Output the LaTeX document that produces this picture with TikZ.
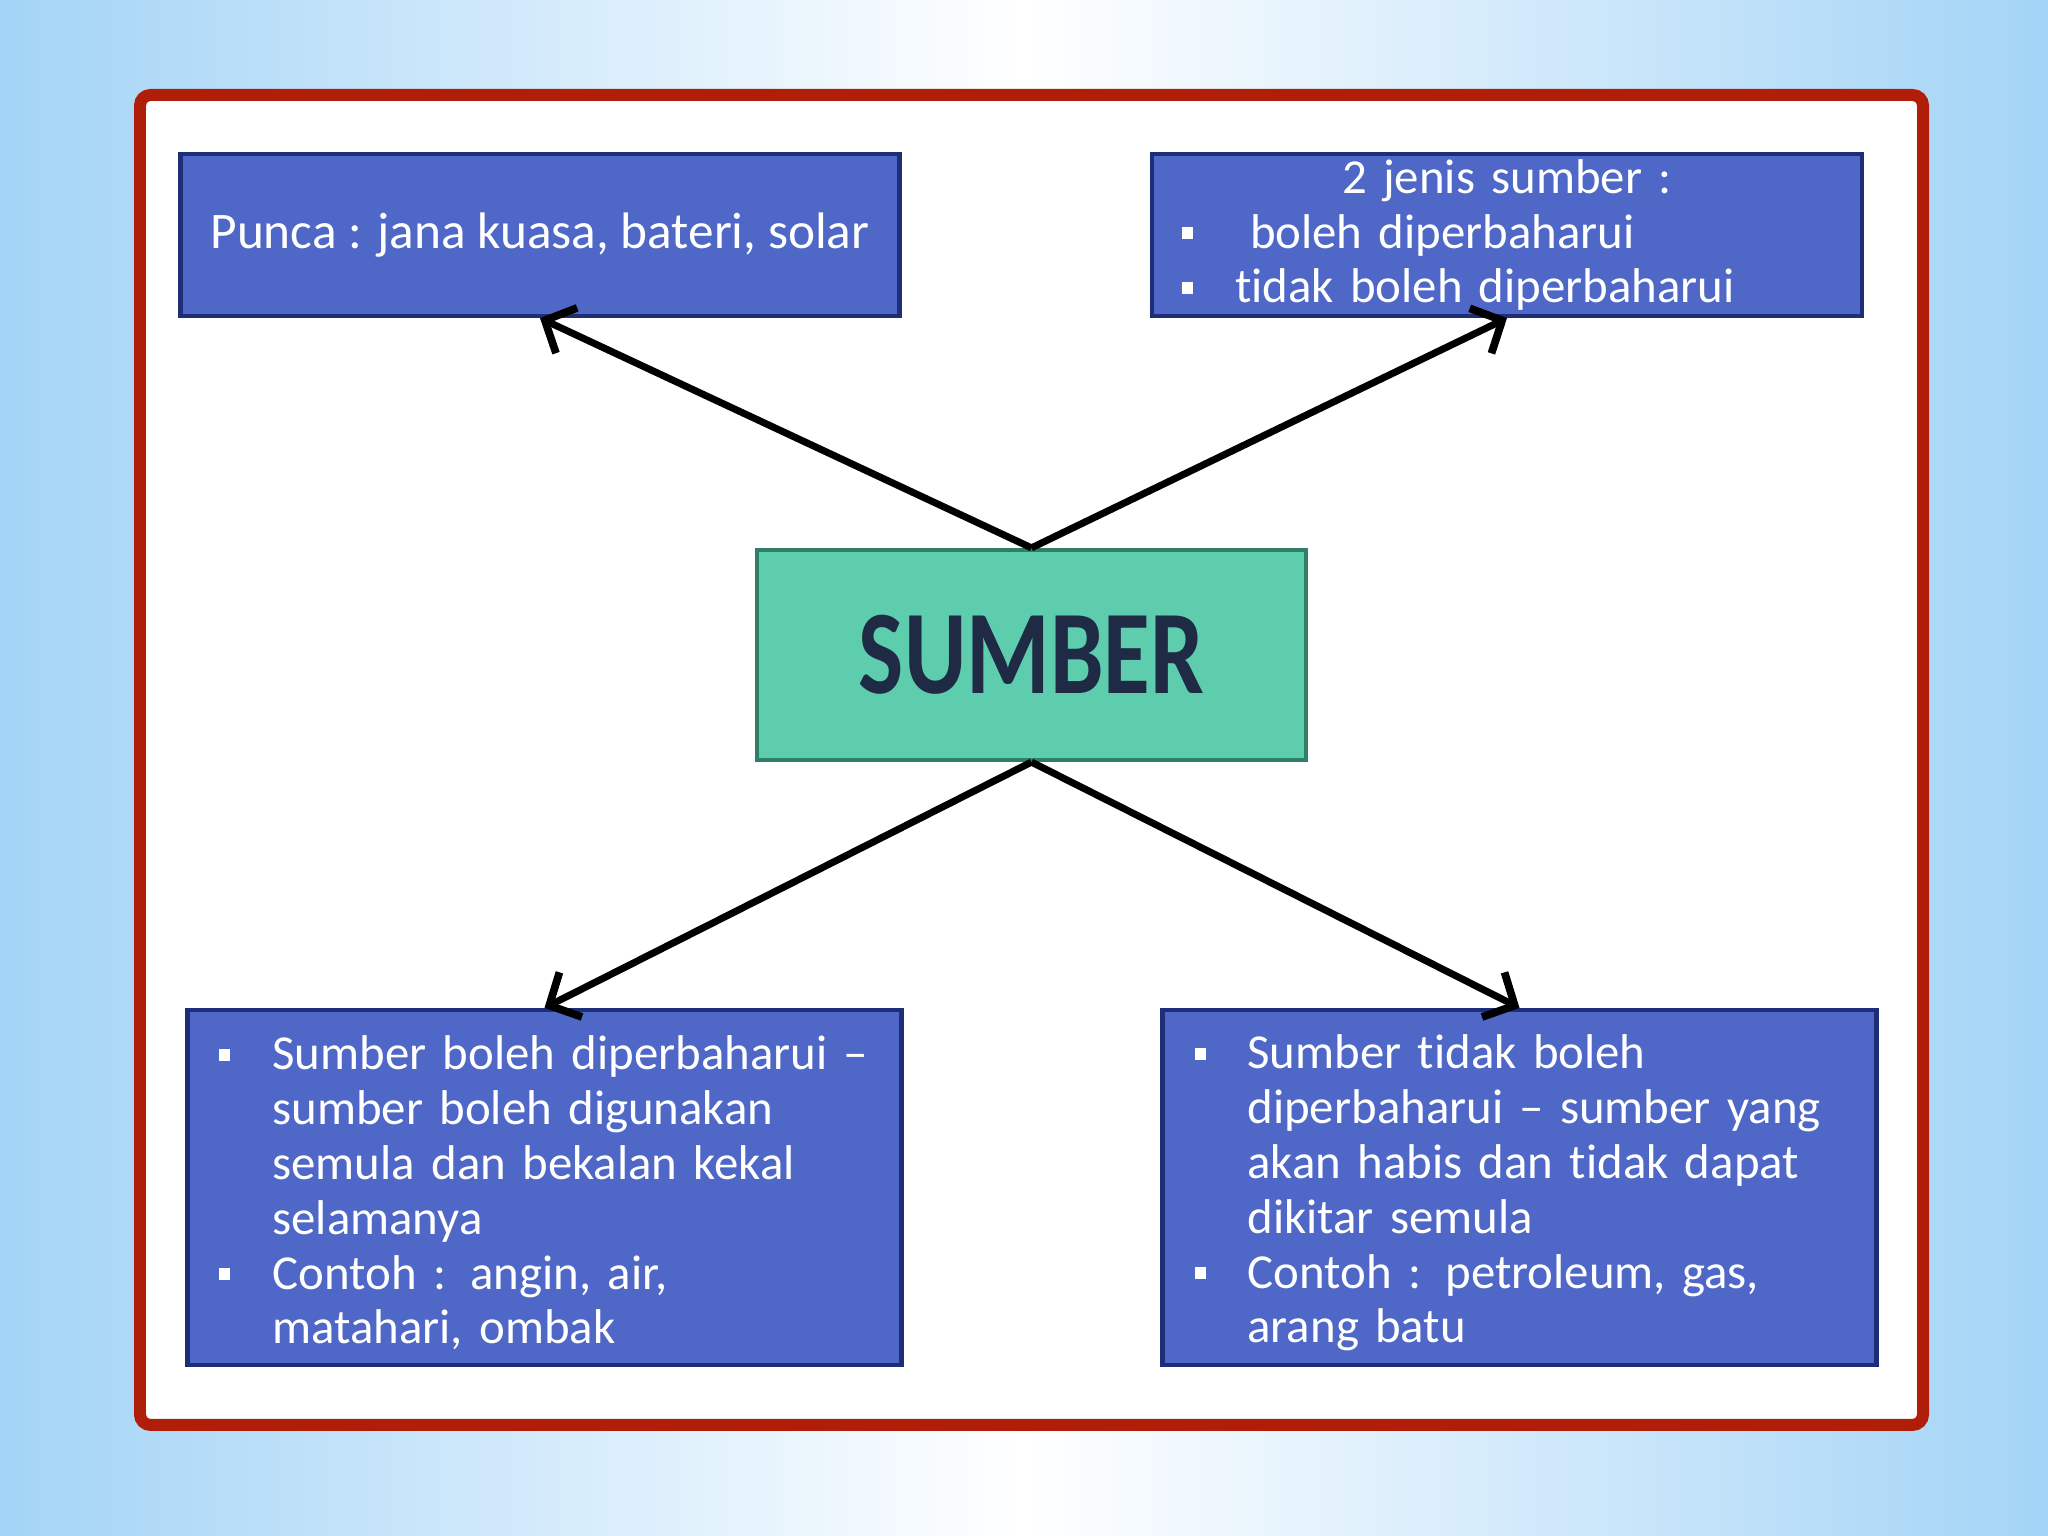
\documentclass[tikz,border=0pt]{standalone}
\usepackage{fontspec}
\setmainfont{Carlito}[Ligatures={NoCommon}]
\usepackage{graphicx}
\usetikzlibrary{arrows.meta}

\definecolor{skyblue}{RGB}{163,212,246}
\definecolor{framered}{RGB}{176,30,10}
\definecolor{boxblue}{RGB}{79,103,198}
\definecolor{boxedge}{RGB}{30,45,120}
\definecolor{hubgreen}{RGB}{93,205,173}
\definecolor{hubedge}{RGB}{47,126,102}
\definecolor{hubtext}{RGB}{31,42,68}

\newcommand{\bul}{\makebox[0.53cm][l]{\rule[0.09cm]{0.11cm}{0.12cm}}}
\newcommand{\ind}{\makebox[0.53cm][l]{}}

\tikzset{
  box/.style={draw=boxedge,line width=1.2pt,fill=boxblue,text=white,
    font=\fontsize{13.9}{15.6}\selectfont,minimum width=7.1cm,inner xsep=0.3cm,inner ysep=0pt},
  hub/.style={draw=hubedge,line width=1.2pt,fill=hubgreen,text=hubtext,
    font=\fontsize{34}{40}\selectfont\bfseries,minimum width=5.49cm,minimum height=2.1cm},
  arr/.style={-{Straight Barb[length=2.4mm,width=5mm,line width=2.2pt]},line width=2pt,black}
}

\begin{document}
\begin{tikzpicture}
        % background
        \shade[left color=skyblue,right color=skyblue,middle color=white] (0,0) rectangle (20.48,15.36);
        \useasboundingbox (0,0) rectangle (20.48,15.36);

        % frame
        \draw[framered,line width=0.12cm,rounded corners=3pt,fill=white] (1.40,1.11) rectangle (19.23,14.41);

        \node[hub] (sumber) at (10.315,8.81) {\scalebox{0.8}[1]{SUMBER}};

        \node[box,minimum height=1.62cm,font=\fontsize{14.6}{15.6}\selectfont] (punca) at (5.40,13.01) {Punca : jana kuasa, bateri, solar};
        \node[box,minimum height=1.62cm,text width=6.5cm,align=center] (jenis) at (15.07,13.01)
          {2 jenis sumber :\\
           \makebox[6.5cm][l]{\makebox[0.68cm][l]{\rule[0.09cm]{0.11cm}{0.12cm}}boleh diperbaharui}\\
           \makebox[6.5cm][l]{\bul tidak boleh diperbaharui}};

        \node[box,minimum height=3.55cm,text width=6.5cm,align=left,inner xsep=0.32cm] (boleh) at (5.445,3.485)
          {\bul\rule{0pt}{0.45cm}Sumber boleh diperbaharui --\\
           \ind sumber boleh digunakan\\
           \ind semula dan bekalan kekal\\
           \ind selamanya\\
           \bul Contoh : angin, air,\\
           \ind matahari, ombak};
        \node[box,minimum height=3.55cm,text width=6.5cm,align=left,inner xsep=0.32cm] (tidak) at (15.195,3.485)
          {\bul\rule{0pt}{0.45cm}Sumber tidak boleh\\
           \ind diperbaharui -- sumber yang\\
           \ind akan habis dan tidak dapat\\
           \ind dikitar semula\\
           \bul Contoh : petroleum, gas,\\
           \ind arang batu};

        % sumber to top boxes
        \draw[arr] (sumber.north) -- (punca.south);
        \draw[arr] (sumber.north) -- (jenis.south);

        % sumber to bottom boxes
        \draw[arr] (sumber.south) -- (boleh.north);
        \draw[arr] (sumber.south) -- (tidak.north);

      \end{tikzpicture}
\end{document}
